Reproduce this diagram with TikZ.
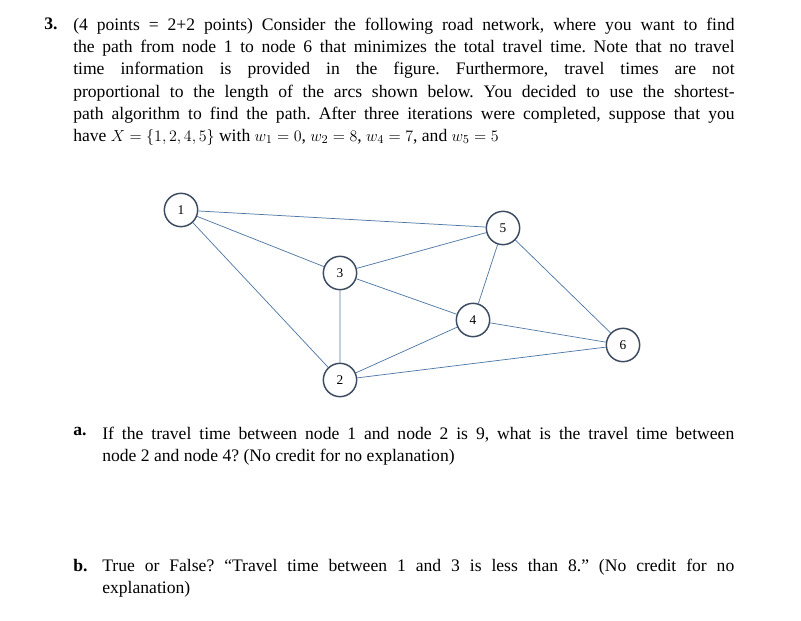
\documentclass[tikz,border=0pt]{standalone}
\usepackage{fontspec}
\setmainfont{Liberation Serif}
\frenchspacing
\begin{document}
\begin{tikzpicture}[x=0.75pt,y=-0.75pt,
  vert/.style={circle,draw={rgb,255:red,60;green,75;blue,95},line width=1.1pt,minimum size=25pt,inner sep=0pt,font=\fontsize{10}{12}\selectfont,fill=white},
  edge/.style={draw={rgb,255:red,80;green,120;blue,165},line width=0.55pt},
  para/.style={anchor=north west,inner sep=0pt,align=justify,font=\fontsize{13.2}{16.6}\selectfont}]
\useasboundingbox (0,0) rectangle (801,621);
\node[para] (lbl3) at (44,18) {\textbf{3.}};
\node[para,text width=496pt] (q) at (73,18) {(4 points = 2+2 points) Consider the following road network, where you want to find\linebreak the path from node 1 to node 6 that minimizes the total travel time. Note that no travel\linebreak time information is provided in the figure. Furthermore, travel times are not\linebreak proportional to the length of the arcs shown below. You decided to use the shortest-\linebreak path algorithm to find the path. After three iterations were completed, suppose that you\linebreak have $X=\{1,2,4,5\}$ with $w_1=0$, $w_2=8$, $w_4=7$, and $w_5=5$};
\node[vert] (n1) at (181,210) {1};
\node[vert] (n5) at (503,228) {5};
\node[vert] (n3) at (340,273) {3};
\node[vert] (n4) at (473,320) {4};
\node[vert] (n6) at (623,345) {6};
\node[vert] (n2) at (340,380) {2};
\path[edge] (n1)--(n5) (n1)--(n3) (n1)--(n2) (n3)--(n5) (n3)--(n4) (n3)--(n2) (n5)--(n4) (n5)--(n6) (n4)--(n6) (n2)--(n4) (n2)--(n6);
\node[para] (la) at (73,427) {\textbf{a.}};
\node[para,text width=474pt] (qa) at (102,427) {If the travel time between node 1 and node 2 is 9, what is the travel time between\linebreak node 2 and node 4? (No credit for no explanation)};
\node[para] (lb) at (73,559) {\textbf{b.}};
\node[para,text width=474pt] (qb) at (102,559) {True or False? “Travel time between 1 and 3 is less than 8.” (No credit for no\linebreak explanation)};
\end{tikzpicture}
\end{document}
